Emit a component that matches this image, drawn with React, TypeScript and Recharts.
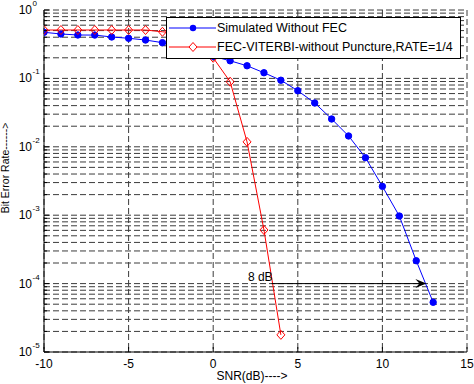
import React from "react";
import {
  CartesianGrid,
  Line,
  LineChart,
  ReferenceLine,
  XAxis,
  YAxis,
} from "recharts";

const SNR_UNCODED = [-10, -9, -8, -7, -6, -5, -4, -3, -2, -1, 0, 1, 2, 3, 4, 5, 6, 7, 8, 9, 10, 11, 12, 13];
const BER_UNCODED = [
  0.472, 0.446, 0.431, 0.43, 0.403, 0.386, 0.364, 0.333, 0.3, 0.26, 0.21, 0.181,
  0.153, 0.121, 0.094, 0.066, 0.0437, 0.0255, 0.0144, 0.00693, 0.00264, 0.000973,
  0.000216, 0.0000533,
];

const SNR_VITERBI = [-10, -9, -8, -7, -6, -5, -4, -3, -2, -1, 0, 1, 2, 3, 4];
const BER_VITERBI = [
  0.51, 0.51, 0.51, 0.51, 0.51, 0.51, 0.51, 0.48, 0.46, 0.4, 0.2, 0.0895, 0.0118,
  0.000608, 0.0000178,
];

const X_TICKS = [-10, -5, 0, 5, 10, 15];
const Y_DECADES = [-5, -4, -3, -2, -1, 0];
const Y_MINOR_MULT = [2, 3, 4, 5, 6, 7, 8, 9];

// 8 dB gap marker at BER = 1e-4
const GAP_LABEL = "8 dB";
const GAP_FROM = 3.45;
const GAP_TO = 12.6;
const GAP_BER = 1e-4;

const Y_TICKS: number[] = [];
Y_DECADES.forEach((d) => {
  Y_TICKS.push(Math.pow(10, d));
  if (d < 0) Y_MINOR_MULT.forEach((m) => Y_TICKS.push(m * Math.pow(10, d)));
});

const data = SNR_UNCODED.map((snr, i) => {
  const j = SNR_VITERBI.indexOf(snr);
  return {
    snr,
    uncoded: BER_UNCODED[i],
    viterbi: j >= 0 ? BER_VITERBI[j] : undefined,
  };
});

const FONT = "'Liberation Sans', Arial, Helvetica, sans-serif";
const BLUE = "#0000ff";
const RED = "#ff0000";
const GRID = "#3c3c3c";

const isMajor = (v: number) => Math.abs(Math.log10(v) - Math.round(Math.log10(v))) < 1e-6;

function BottomTick({ x, y, payload }: any) {
  return (
    <g>
      <line x1={x} x2={x} y1={y} y2={y - 5} stroke="#000" />
      <text x={x} y={y + 16} textAnchor="middle" fontSize={12} fontFamily={FONT} fill="#000">
        {payload.value}
      </text>
    </g>
  );
}

function TopTick({ x, y }: any) {
  return <line x1={x} x2={x} y1={y} y2={y + 5} stroke="#000" />;
}

function LeftTick({ x, y, payload }: any) {
  const major = isMajor(payload.value);
  const len = major ? 5 : 3;
  return (
    <g>
      <line x1={x} x2={x + len} y1={y} y2={y} stroke="#000" />
      {major && (
        <g fontFamily={FONT} fill="#000">
          <text x={x - 12} y={y + 4} textAnchor="end" fontSize={12}>
            10
          </text>
          <text x={x - 11.5} y={y - 4} textAnchor="start" fontSize={8}>
            {Math.round(Math.log10(payload.value))}
          </text>
        </g>
      )}
    </g>
  );
}

function RightTick({ x, y, payload }: any) {
  const len = isMajor(payload.value) ? 5 : 3;
  return <line x1={x} x2={x - len} y1={y} y2={y} stroke="#000" />;
}

function DiamondDot(props: any) {
  const { cx, cy, index } = props;
  if (cx == null || cy == null) return <g key={index} />;
  return (
    <path
      key={index}
      d={`M${cx},${cy - 4.5} L${cx + 4},${cy} L${cx},${cy + 4.5} L${cx - 4},${cy} Z`}
      fill="none"
      stroke={RED}
      strokeWidth={1}
    />
  );
}

function CircleDot(props: any) {
  const { cx, cy, index } = props;
  if (cx == null || cy == null) return <g key={index} />;
  return <circle key={index} cx={cx} cy={cy} r={3.2} fill={BLUE} stroke={BLUE} />;
}

function GapArrow(props: any) {
  const { x1, y1, x2, y2 } = props;
  return (
    <g>
      <line x1={x1} y1={y1} x2={x2 - 6} y2={y2} stroke="#000" strokeWidth={1} />
      <path d={`M${x2},${y2} L${x2 - 11},${y2 - 4.5} L${x2 - 7},${y2} L${x2 - 11},${y2 + 4.5} Z`} fill="#000" />
      <text x={x1 + 1} y={y1 - 3} textAnchor="end" fontSize={12} fontFamily={FONT} fill="#000">
        {GAP_LABEL}
      </text>
    </g>
  );
}

function LegendBox() {
  return (
    <svg
      width={295}
      height={42}
      style={{ position: "absolute", left: 166, top: 17, background: "#fff" }}
    >
      <rect x={0.5} y={0.5} width={294} height={41} fill="#fff" stroke="#000" />
      <line x1={3} x2={50} y1={11} y2={11} stroke={BLUE} />
      <circle cx={27} cy={11} r={3.2} fill={BLUE} />
      <text x={51} y={15} fontSize={12.5} fontFamily={FONT} fill="#000">
        Simulated Without FEC
      </text>
      <line x1={3} x2={50} y1={30} y2={30} stroke={RED} />
      <path d="M27,25.5 L31,30 L27,34.5 L23,30 Z" fill="#fff" stroke={RED} />
      <text x={51} y={34} fontSize={12.5} fontFamily={FONT} fill="#000">
        FEC-VITERBI-without Puncture,RATE=1/4
      </text>
    </svg>
  );
}

export default function App() {
  return (
    <div style={{ position: "absolute", left: 0, top: 0, width: 474, height: 384, background: "#fff", overflow: "hidden" }}>
      <LineChart
        width={474}
        height={384}
        data={data}
        margin={{ top: 10, right: 7, left: 0, bottom: 0 }}
      >
        <CartesianGrid stroke={GRID} strokeDasharray="6 3" />
        <XAxis
          dataKey="snr"
          type="number"
          domain={[-10, 15]}
          ticks={X_TICKS}
          interval={0}
          height={32}
          tickSize={0}
          tickMargin={0}
          tickLine={false}
          axisLine={{ stroke: "#000" }}
          tick={BottomTick}
          allowDataOverflow
        />
        <XAxis
          xAxisId="top"
          orientation="top"
          type="number"
          domain={[-10, 15]}
          ticks={X_TICKS}
          interval={0}
          height={0}
          tickSize={0}
          tickMargin={0}
          tickLine={false}
          axisLine={{ stroke: "#000" }}
          tick={TopTick}
          allowDataOverflow
        />
        <YAxis
          type="number"
          scale="log"
          domain={[1e-5, 1]}
          ticks={Y_TICKS}
          interval={0}
          width={44}
          tickSize={0}
          tickMargin={0}
          tickLine={false}
          axisLine={{ stroke: "#000" }}
          tick={LeftTick}
          allowDataOverflow
        />
        <YAxis
          yAxisId="right"
          orientation="right"
          type="number"
          scale="log"
          domain={[1e-5, 1]}
          ticks={Y_TICKS}
          interval={0}
          width={0}
          tickSize={0}
          tickMargin={0}
          tickLine={false}
          axisLine={{ stroke: "#000" }}
          tick={RightTick}
          allowDataOverflow
        />
        <Line
          dataKey="uncoded"
          stroke={BLUE}
          strokeWidth={1}
          dot={CircleDot}
          isAnimationActive={false}
        />
        <Line
          dataKey="viterbi"
          stroke={RED}
          strokeWidth={1}
          dot={DiamondDot}
          connectNulls={false}
          isAnimationActive={false}
        />
        <ReferenceLine
          segment={[
            { x: GAP_FROM, y: GAP_BER },
            { x: GAP_TO, y: GAP_BER },
          ]}
          shape={GapArrow}
        />
      </LineChart>
      <LegendBox />
      <div
        style={{
          position: "absolute",
          left: 5,
          top: 168,
          transform: "translate(-50%, -50%) rotate(-90deg)",
          whiteSpace: "nowrap",
          fontFamily: FONT,
          fontSize: 10.5,
        }}
      >
        Bit Error Rate------&gt;
      </div>
      <div
        style={{
          position: "absolute",
          left: 252,
          top: 370,
          transform: "translateX(-50%)",
          whiteSpace: "nowrap",
          fontFamily: FONT,
          fontSize: 12,
          lineHeight: "13px",
        }}
      >
        SNR(dB)----&gt;
      </div>
    </div>
  );
}
